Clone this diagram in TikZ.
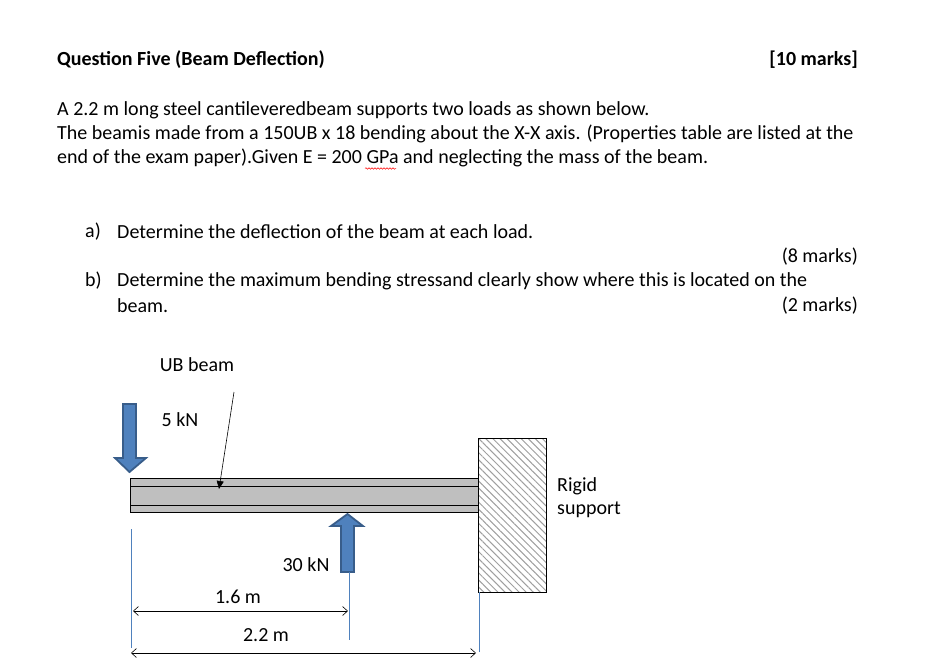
\documentclass[tikz,border=0pt]{standalone}
\usepackage{fontspec}
\setmainfont{Carlito}
\usetikzlibrary{patterns.meta,decorations.pathmorphing,arrows.meta}
\begin{document}
\begin{tikzpicture}[x=1pt,y=-1pt,
  txt/.style={inner sep=0pt,anchor=west,font=\fontsize{20}{22}\selectfont},
  rtxt/.style={inner sep=0pt,anchor=east,font=\fontsize{20}{22}\selectfont},
  lbl/.style={inner sep=0pt,font=\fontsize{20}{22}\selectfont},
  force/.style={fill={rgb,255:red,79;green,129;blue,189},draw={rgb,255:red,56;green,93;blue,138},line width=1.8pt,line join=miter},
  ext/.style={draw={rgb,255:red,79;green,129;blue,189},line width=0.6pt},
  dim/.style={{Straight Barb[length=5pt,width=9pt]}-{Straight Barb[length=5pt,width=9pt]},line width=0.6pt}]
\useasboundingbox (0,0) rectangle (941,667);
\node[txt,font=\fontsize{20}{22}\selectfont\bfseries] (title) at (57,60) {Question Five (Beam Deflection)};
\node[rtxt,font=\fontsize{20}{22}\selectfont\bfseries] (marks) at (858,60) {[10 marks]};
\node[txt] (p1) at (57,110) {A 2.2 m long steel cantileveredbeam supports two loads as shown below.};
\node[txt] (p2) at (57,134) {The beamis made from a 150UB x 18 bending about the X-X axis. (Properties table are listed at the};
\node[txt] (p3) at (57,158) {end of the exam paper).Given E = 200 GPa and neglecting the mass of the beam.};
\draw[red,line width=0.5pt,decorate,decoration={snake,amplitude=0.8pt,segment length=3pt}] (365,168.5) -- (396,168.5);
\node[txt] (qa) at (85,232) {a)};
\node[txt] (qat) at (117,232) {Determine the deflection of the beam at each load.};
\node[rtxt] (m8) at (858,257) {(8 marks)};
\node[txt] (qb) at (85,281) {b)};
\node[txt] (qbt) at (117,281) {Determine the maximum bending stressand clearly show where this is located on the};
\node[txt] (qbt2) at (117,306) {beam.};
\node[rtxt] (m2) at (858,306) {(2 marks)};
% beam
\fill[gray!50] (130,478) rectangle (478,512);
\draw[line width=0.8pt] (130,478) rectangle (478,512);
\draw[line width=0.8pt] (130,486) -- (478,486) (130,505) -- (478,505);
% support
\fill[white] (478,438) rectangle (546,592);
\begin{scope}
\clip (478,438) rectangle (546,592);
\fill[pattern={Lines[angle=-45,distance=5pt,line width=1pt]},pattern color=gray!75] (478,438) rectangle (546,592);
\end{scope}
\draw[line width=1pt] (478,438) rectangle (546,592);
% forces
\draw[force] (123,404) -- (136,404) -- (136,458) -- (146,458) -- (129.5,472) -- (115,458) -- (123,458) -- cycle;
\draw[force] (341,572) -- (354,572) -- (354,526) -- (363,526) -- (347.5,514) -- (331,526) -- (341,526) -- cycle;
% extension lines
\draw[ext] (131,529) -- (131,648);
\draw[ext] (349,572) -- (349,640);
\draw[ext] (479,592) -- (479,652);
\coordinate (a1) at (133,611); \coordinate (a2) at (348,611);
\coordinate (b1) at (131,653); \coordinate (b2) at (476,653);
\draw[dim] (a1) -- (a2);
\draw[dim] (b1) -- (b2);
\node[lbl] (d1) at (238,597) {1.6 m};
\node[lbl] (d2) at (266,635) {2.2 m};
\node[lbl] (ub) at (197,365) {UB beam};
\coordinate (ubs) at (234,392); \coordinate (ube) at (219,489);
\draw[-{Triangle[length=8pt,width=7pt]},line width=0.6pt] (ubs) -- (ube);
\node[lbl] (f5) at (180,420) {5 kN};
\node[lbl] (f30) at (306,565) {30 kN};
\node[txt] (r1) at (557,486) {Rigid};
\node[txt] (r2) at (557,510) {support};
\end{tikzpicture}
\end{document}
